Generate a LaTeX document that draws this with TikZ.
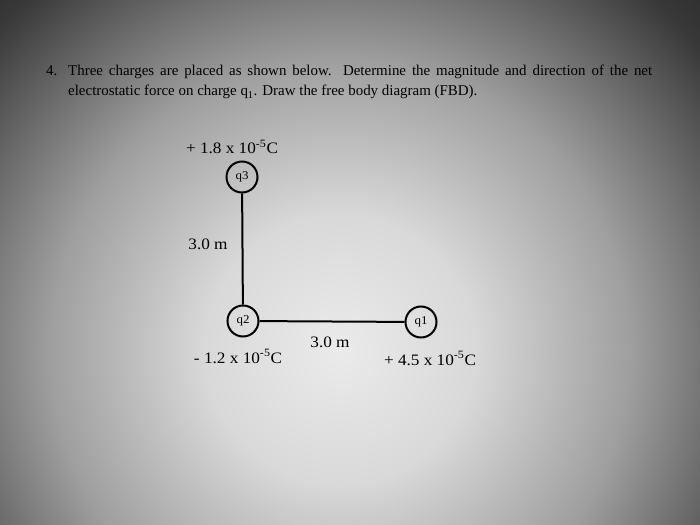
\documentclass[tikz,border=0pt]{standalone}
\usepackage{fontspec}
\setmainfont{Liberation Serif}
\newfontfamily\widefont[FakeStretch=1.08]{Liberation Serif}
\pgfdeclareradialshading{paper}{\pgfpoint{0bp}{0bp}}{color(0bp)=(black!8); color(6bp)=(black!15); color(13bp)=(black!38); color(21bp)=(black!78); color(25bp)=(black!86); color(50bp)=(black!86)}
\begin{document}
\begin{tikzpicture}
[x=1bp,y=-1bp,every node/.style={inner sep=0pt},
 charge/.style={circle,draw=black,line width=2bp,minimum size=31bp,font=\widefont\fontsize{12}{12}\selectfont},
 value/.style={anchor=base,font=\widefont\fontsize{16}{18}\selectfont},
 head/.style={anchor=base west,font=\fontsize{15}{20}\selectfont}]
\useasboundingbox (0,0) rectangle (700,525);
\begin{scope}
\clip (0,0) rectangle (700,525);
\shade[shading=paper] (340,350) circle (560);
\end{scope}

\node[head] (num) at (46,76) {4.};
\node[head,text width=584bp,align=justify] (task) at (68,76) {Three charges are placed as shown below. Determine the magnitude and direction of the net\linebreak electrostatic force on charge q\textsubscript{1}. Draw the free body diagram (FBD).};

\node[charge] (q3) at (242,177) {q3};
\node[charge] (q2) at (243,321) {q2};
\node[charge] (q1) at (421,322) {q1};

\node[value] (v3) at (232,154) {+ 1.8 x 10\textsuperscript{-5}C};
\node[value] (v2) at (238,363) {- 1.2 x 10\textsuperscript{-5}C};
\node[value] (v1) at (430,365) {+ 4.5 x 10\textsuperscript{-5}C};
\node[value] (d32) at (208,250) {3.0 m};
\node[value] (d21) at (330,347) {3.0 m};

\foreach \from/\to in {q3/q2,q2/q1}
\draw[line width=2bp] (\from) -- (\to);
\end{tikzpicture}
\end{document}
